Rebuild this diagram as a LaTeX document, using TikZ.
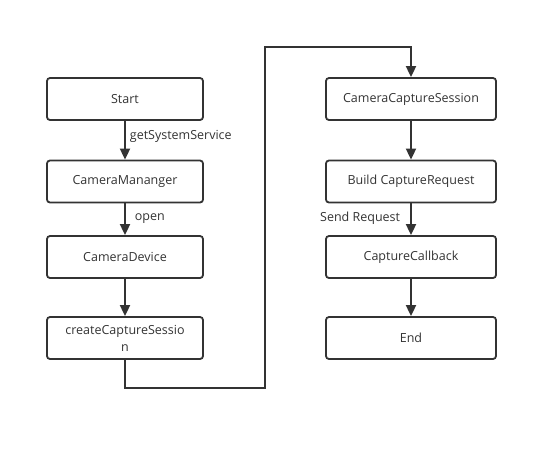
\documentclass[tikz,border=0pt]{standalone}
\usepackage{fontspec}
\setmainfont{Open Sans}
\usetikzlibrary{arrows.meta}
\definecolor{ln}{HTML}{333333}
\tikzset{
  x=1pt,y=-1pt,
  box/.style={draw=ln,line width=1.8pt,rounded corners=3pt,minimum width=156pt,minimum height=42pt,inner sep=0pt,align=center,font=\fontsize{12.5}{17}\selectfont,text=ln},
  rbox/.style={box,minimum width=170pt},
  conn/.style={draw=ln,line width=1.8pt,-{Triangle[length=11pt,width=10pt]}},
  lbl/.style={font=\fontsize{12.5}{15}\selectfont,text=ln,inner sep=0pt}
}
\begin{document}
\begin{tikzpicture}
\useasboundingbox (0,0) rectangle (558,451);
\node[box] (start) at (125,99) {Start};
\node[box] (mgr) at (125,181.5) {CameraMananger};
\node[box] (dev) at (125,257) {CameraDevice};
\node[box] (ccs) at (125,338) {createCaptureSessio\\n};
\node[rbox] (sess) at (411,99) {CameraCaptureSession};
\node[rbox] (build) at (411,181.5) {Build CaptureRequest};
\node[rbox] (cb) at (411,257) {CaptureCallback};
\node[rbox] (end) at (411,338) {End};
\coordinate (c1) at (125,388);
\coordinate (c2) at (265,388);
\coordinate (c3) at (265,47);
\coordinate (c4) at (411,47);
\draw[conn] (start) -- node[lbl,anchor=west,xshift=4pt,yshift=4pt]{getSystemService} (mgr);
\draw[conn] (mgr) -- node[lbl,anchor=west,xshift=9pt,yshift=1pt]{open} (dev);
\draw[conn] (dev) -- (ccs);
\draw[conn,rounded corners=0pt] (ccs.south) -- (c1) -- (c2) -- (c3) -- (c4) -- (sess.north);
\draw[conn] (sess) -- (build);
\draw[conn] (build) -- node[lbl,anchor=east,xshift=-10pt,yshift=1pt]{Send Request} (cb);
\draw[conn] (cb) -- (end);
\end{tikzpicture}
\end{document}
